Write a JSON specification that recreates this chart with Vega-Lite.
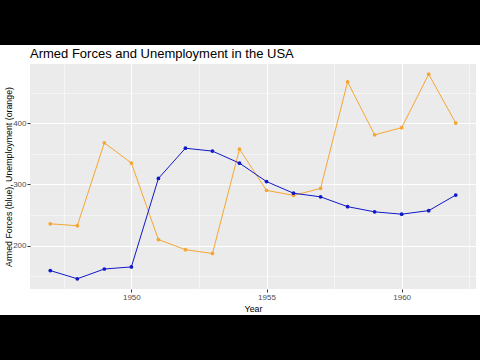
{
  "$schema": "https://vega.github.io/schema/vega-lite/v6.json",
  "width": 446,
  "height": 225,
  "autosize": {"type": "none"},
  "padding": {"left": 30, "top": 64, "right": 4, "bottom": 71},
  "background": "white",
  "title": {"text": "Armed Forces and Unemployment in the USA", "anchor": "start", "frame": "group", "fontSize": 13, "font": "Liberation Sans", "fontWeight": "normal", "color": "black", "offset": -61},
  "config": {
    "view": {"fill": "#EBEBEB", "stroke": null},
    "axis": {"domain": false, "gridColor": "white", "labelFont": "Liberation Sans", "titleFont": "Liberation Sans", "labelFontSize": 8, "labelColor": "#4D4D4D", "tickColor": "#333333", "tickSize": 3, "labelPadding": 1, "titleFontSize": 8.8, "titleFontWeight": "normal", "titleColor": "black"}
  },
  "data": {"values": [
    {"Year": 1947, "series": "Unemployed", "value": 235.6},
    {"Year": 1948, "series": "Unemployed", "value": 232.5},
    {"Year": 1949, "series": "Unemployed", "value": 368.2},
    {"Year": 1950, "series": "Unemployed", "value": 335.1},
    {"Year": 1951, "series": "Unemployed", "value": 209.9},
    {"Year": 1952, "series": "Unemployed", "value": 193.2},
    {"Year": 1953, "series": "Unemployed", "value": 187.0},
    {"Year": 1954, "series": "Unemployed", "value": 357.8},
    {"Year": 1955, "series": "Unemployed", "value": 290.4},
    {"Year": 1956, "series": "Unemployed", "value": 282.2},
    {"Year": 1957, "series": "Unemployed", "value": 293.6},
    {"Year": 1958, "series": "Unemployed", "value": 468.1},
    {"Year": 1959, "series": "Unemployed", "value": 381.3},
    {"Year": 1960, "series": "Unemployed", "value": 393.1},
    {"Year": 1961, "series": "Unemployed", "value": 480.6},
    {"Year": 1962, "series": "Unemployed", "value": 400.7},
    {"Year": 1947, "series": "Armed Forces", "value": 159.0},
    {"Year": 1948, "series": "Armed Forces", "value": 145.6},
    {"Year": 1949, "series": "Armed Forces", "value": 161.6},
    {"Year": 1950, "series": "Armed Forces", "value": 165.0},
    {"Year": 1951, "series": "Armed Forces", "value": 309.9},
    {"Year": 1952, "series": "Armed Forces", "value": 359.4},
    {"Year": 1953, "series": "Armed Forces", "value": 354.7},
    {"Year": 1954, "series": "Armed Forces", "value": 335.0},
    {"Year": 1955, "series": "Armed Forces", "value": 304.8},
    {"Year": 1956, "series": "Armed Forces", "value": 285.7},
    {"Year": 1957, "series": "Armed Forces", "value": 279.8},
    {"Year": 1958, "series": "Armed Forces", "value": 263.7},
    {"Year": 1959, "series": "Armed Forces", "value": 255.2},
    {"Year": 1960, "series": "Armed Forces", "value": 251.4},
    {"Year": 1961, "series": "Armed Forces", "value": 257.2},
    {"Year": 1962, "series": "Armed Forces", "value": 282.7}
  ]},
  "resolve": {"axis": {"x": "independent", "y": "independent"}},
  "layer": [
    {
      "mark": {"type": "line", "opacity": 0},
      "encoding": {
        "x": {"field": "Year", "type": "quantitative", "scale": {"domain": [1946.25, 1962.75], "nice": false, "zero": false}, "axis": {"orient": "bottom", "values": [1947.5, 1952.5, 1957.5, 1962.5], "labels": false, "ticks": false, "grid": true, "gridWidth": 0.5, "title": null}},
        "y": {"field": "value", "type": "quantitative", "scale": {"domain": [128.85, 497.35], "nice": false, "zero": false}, "axis": {"orient": "left", "values": [150, 250, 350, 450], "labels": false, "ticks": false, "grid": true, "gridWidth": 0.5, "title": null}},
        "detail": {"field": "series"}
      }
    },
    {
      "mark": {"type": "line", "strokeWidth": 1},
      "encoding": {
        "x": {"field": "Year", "type": "quantitative", "axis": {"orient": "bottom", "values": [1950, 1955, 1960], "format": "d", "grid": true, "gridWidth": 1, "title": "Year", "titlePadding": 3}},
        "y": {"field": "value", "type": "quantitative", "axis": {"orient": "left", "values": [200, 300, 400], "grid": true, "gridWidth": 1, "title": "Armed Forces (blue), Unemployment (orange)", "titleX": -17}},
        "color": {"field": "series", "type": "nominal", "scale": {"domain": ["Armed Forces", "Unemployed"], "range": ["#1018C8", "#F5A733"]}, "legend": null}
      }
    },
    {
      "mark": {"type": "circle", "size": 14, "opacity": 1},
      "encoding": {
        "x": {"field": "Year", "type": "quantitative", "axis": null},
        "y": {"field": "value", "type": "quantitative", "axis": null},
        "color": {"field": "series", "type": "nominal", "legend": null}
      }
    },
    {
      "data": {"values": [{}]},
      "mark": {"type": "rect", "color": "black"},
      "encoding": {
        "x": {"datum": 1940, "type": "quantitative", "axis": null},
        "x2": {"datum": 1970},
        "y": {"datum": 528.5, "type": "quantitative", "axis": null},
        "y2": {"datum": 602}
      }
    },
    {
      "data": {"values": [{}]},
      "mark": {"type": "rect", "color": "black"},
      "encoding": {
        "x": {"datum": 1940, "type": "quantitative", "axis": null},
        "x2": {"datum": 1970},
        "y": {"datum": 12, "type": "quantitative", "axis": null},
        "y2": {"datum": 86.3}
      }
    }
  ]
}
